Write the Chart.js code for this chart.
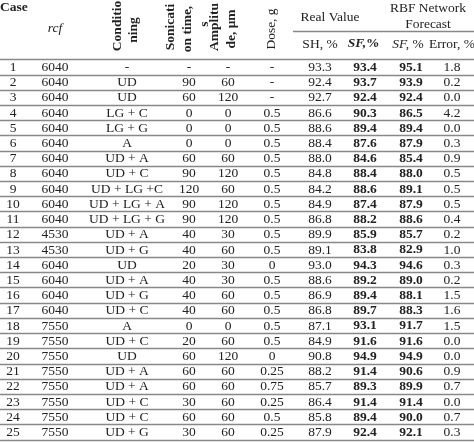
<!DOCTYPE html>
<html><head><meta charset="utf-8">
<script src="https://cdn.jsdelivr.net/npm/chart.js@4"></script>
<style>html,body{margin:0;padding:0;background:#fff}#w{width:474px;height:442px}</style>
</head><body><div id="w"><canvas id="c"></canvas></div>
<script>
const cases=[1,2,3,4,5,6,7,8,9,10,11,12,13,14,15,16,17,18,19,20,21,22,23,24,25];
const rcf=["6040","6040","6040","6040","6040","6040","6040","6040","6040","6040","6040","4530","4530","6040","6040","6040","6040","7550","7550","7550","7550","7550","7550","7550","7550"];
const conditioning=["-","UD","UD","LG + C","LG + G","A","UD + A","UD + C","UD + LG +C","UD + LG + A","UD + LG + G","UD + A","UD + G","UD","UD + A","UD + G","UD + C","A","UD + C","UD","UD + A","UD + A","UD + C","UD + C","UD + G"];
const sonication=["-","90","60","0","0","0","60","90","120","90","90","40","40","20","40","40","40","0","20","60","60","60","30","60","30"];
const amplitude=["-","60","120","0","0","0","60","120","60","120","120","30","60","30","30","60","60","0","60","120","60","60","60","60","60"];
const dose=["-","-","-","0.5","0.5","0.5","0.5","0.5","0.5","0.5","0.5","0.5","0.5","0","0.5","0.5","0.5","0.5","0.5","0","0.25","0.75","0.25","0.5","0.25"];
const sh=["93.3","92.4","92.7","86.6","88.6","88.4","88.0","84.8","84.2","84.9","86.8","89.9","89.1","93.0","88.6","86.9","86.8","87.1","84.9","90.8","88.2","85.7","86.4","85.8","87.9"];
const sfReal=["93.4","93.7","92.4","90.3","89.4","87.6","84.6","88.4","88.6","87.4","88.2","85.9","83.8","94.3","89.2","89.4","89.7","93.1","91.6","94.9","91.4","89.3","91.4","89.4","92.4"];
const sfForecast=["95.1","93.9","92.4","86.5","89.4","87.9","85.4","88.0","89.1","87.9","88.6","85.7","82.9","94.6","89.0","88.1","88.3","91.7","91.6","94.9","90.6","89.9","91.4","90.0","92.1"];
const errorPct=["1.8","0.2","0.0","4.2","0.0","0.3","0.9","0.5","0.5","0.5","0.4","0.2","1.0","0.3","0.2","1.5","1.6","1.5","0.0","0.0","0.9","0.7","0.0","0.7","0.3"];

const columns=[
 {data:cases,x:13},{data:rcf,x:55},{data:conditioning,x:127},{data:sonication,x:189},
 {data:amplitude,x:228},{data:dose,x:272},{data:sh,x:320},{data:sfReal,x:365,bold:true},
 {data:sfForecast,x:411,bold:true},{data:errorPct,x:452}];
const F='"Liberation Serif", "DejaVu Serif", serif';
const FS='13.5px ';

const tablePlugin={id:'table',afterDraw(ch){
 const c=ch.ctx,xs=ch.scales.x,ys=ch.scales.y;
 c.save();
 c.textAlign='center';c.textBaseline='middle';c.fillStyle='#222';
 columns.forEach(col=>{
  c.font=(col.bold?'bold ':'')+FS+F;
  col.data.forEach((v,i)=>c.fillText(v,xs.getPixelForValue(col.x),ys.getPixelForValue(cases[i])+0.5));
 });
 c.strokeStyle='#888';c.lineWidth=1.3;
 for(let i=0;i<=cases.length;i++){
  const y=Math.round(ys.getPixelForValue(i+0.5))+0.5;
  c.beginPath();c.moveTo(0,y);c.lineTo(474,y);c.stroke();
 }
 c.beginPath();c.moveTo(293,31.5);c.lineTo(474,31.5);c.stroke();
 c.fillStyle='#222';
 c.font='bold '+FS+F;c.textAlign='left';c.fillText('Case',0,8);
 c.textAlign='center';
 c.font='italic '+FS+F;c.fillText('rcf',55,28);
 c.font=FS+F;
 c.fillText('Real Value',330,17);c.fillText('RBF Network',428,8);c.fillText('Forecast',428,24);
 c.fillText('SH, %',320,44);
 c.font='italic bold '+FS+F;c.textAlign='right';c.fillText('SF,',366,44);
 c.font='bold '+FS+F;c.textAlign='left';c.fillText('%',366,44);
 c.font='italic '+FS+F;c.textAlign='right';c.fillText('SF,',409,44);
 c.font=FS+F;c.textAlign='left';c.fillText(' %',409,44);
 c.textAlign='center';c.fillText('Error, %',452,44);
 const rot=(t,x,y,bold)=>{c.save();c.translate(x,y);c.rotate(-Math.PI/2);c.font=(bold?'bold ':'')+FS+F;c.textAlign='center';c.fillText(t,0,0);c.restore();};
 rot('Conditio',118,26,true);rot('ning',134,30,true);
 rot('Sonicati',171,27,true);rot('on time,',188,29,true);rot('s',205,24,true);
 rot('Amplitu',215,27,true);rot('de, μm',232,29,true);
 rot('Dose, g',271,29,false);
 c.restore();
}};

new Chart(document.getElementById('c'),{
 type:'scatter',
 data:{datasets:[{data:cases.map(v=>({x:0,y:v})),pointRadius:0}]},
 options:{responsive:true,maintainAspectRatio:false,animation:false,
  layout:{padding:0},
  plugins:{legend:{display:false},tooltip:{enabled:false}},
  scales:{x:{type:'linear',min:0,max:474,display:false},
          y:{type:'linear',min:-3.405,max:25.66,reverse:true,display:false}}},
 plugins:[tablePlugin]
});
</script></body></html>
